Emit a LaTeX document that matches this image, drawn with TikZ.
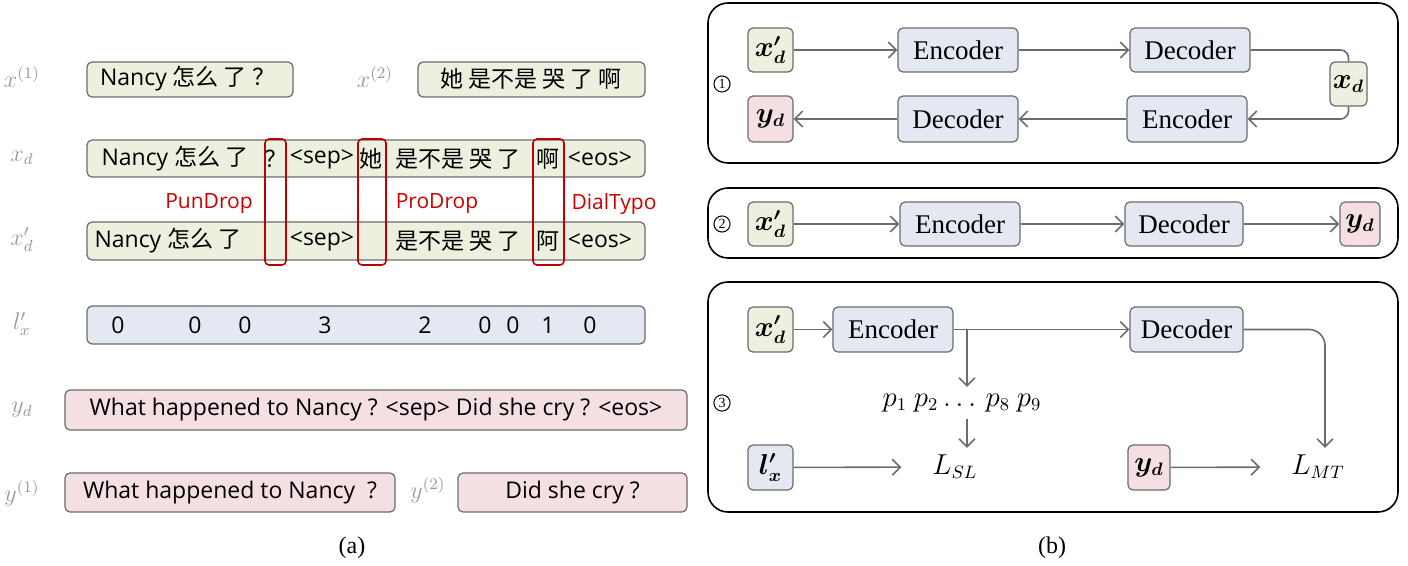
\documentclass[tikz,border=0pt]{standalone}
\usepackage{amsmath,amssymb,bm}
\usepackage{fontspec}
\usetikzlibrary{arrows.meta}
\setmainfont{Liberation Serif}
\newfontfamily\comic{Open Sans}
\newfontfamily\cjk{Noto Sans CJK SC}
\begin{document}
\begin{tikzpicture}[x=0.5pt,y=-0.5pt,
  bx/.style={draw=gray!85!black,rounded corners=2.5pt,line width=0.6pt,inner sep=0pt},
  ltx/.style={font=\comic\fontsize{11.5}{13}\selectfont},
  lab/.style={text=gray!80,font=\fontsize{12}{14}\selectfont},
  rtx/.style={font=\fontsize{13.5}{15}\selectfont},
  cnum/.style={circle,draw,line width=0.5pt,inner sep=0.8pt,font=\fontsize{7}{8}\selectfont},
  redc/.style={draw=red!75!black,line width=0.8pt,rounded corners=2pt},
  redl/.style={text=red!80!black,font=\comic\fontsize{10.5}{12}\selectfont},
  frm/.style={draw=black,line width=0.8pt,rounded corners=10pt},
  ar/.style={draw=gray!85!black,line width=0.8pt,-{Straight Barb[length=4pt,width=8pt]}},
  ln/.style={draw=gray!85!black,line width=0.8pt}]
\useasboundingbox (0,0) rectangle (1408,566);
\fill[white] (0,0) rectangle (1408,566);
\newcommand\B[7]{\node[#6,minimum width={(#4-#2)*0.5pt},minimum height={(#5-#3)*0.5pt}] (#1) at ({(#2+#4)/2},{(#3+#5)/2}) {#7};}
\definecolor{G}{HTML}{EBF1DE}\definecolor{Bl}{HTML}{E4E8F2}\definecolor{P}{HTML}{F4DFE3}
\tikzset{gr/.style={bx,fill=G},bl/.style={bx,fill=Bl},pk/.style={bx,fill=P}}
% ---------- (a)
\node[lab] (l1) at (22,77) {$x^{(1)}$};
\B{b1}{87}{62}{293}{97}{gr}{}
\node[ltx,anchor=west] (t1) at (93,79) {Nancy {\cjk 怎么 了 ？}};
\node[lab] (l2) at (375,77) {$x^{(2)}$};
\B{b2}{418}{62}{645}{97}{gr}{}
\node[ltx] (t2) at (531,79) {\cjk 她 是不是 哭 了 啊};
\node[lab] (l3) at (22,158) {$x_d$};
\B{b3}{87}{140}{645}{177}{gr}{}
\node[ltx] (s1) at (175,159) {Nancy {\cjk 怎么 了}};
\node[ltx] (s2) at (276,159) {\cjk ？};
\node[ltx] (s3) at (322,159) {<sep>};
\node[ltx] (s4) at (371,159) {\cjk 她};
\node[ltx] (s5) at (458,159) {\cjk 是不是 哭 了};
\node[ltx] (s6) at (548,159) {\cjk 啊};
\node[ltx] (s7) at (600,159) {<eos>};
\node[lab] (l4) at (22,240) {$x'_d$};
\B{b4}{87}{222}{645}{260}{gr}{}
\node[ltx] (u1) at (168,241) {Nancy {\cjk 怎么 了}};
\node[ltx] (u3) at (322,241) {<sep>};
\node[ltx] (u5) at (458,241) {\cjk 是不是 哭 了};
\node[ltx] (u6) at (548,241) {\cjk 阿};
\node[ltx] (u7) at (600,241) {<eos>};
\B{r1}{265}{139}{286}{265}{redc}{}
\B{r2}{358}{139}{386}{265}{redc}{}
\B{r3}{533}{139}{564}{265}{redc}{}
\node[redl] (p1) at (209,204) {PunDrop};
\node[redl] (p2) at (437,204) {ProDrop};
\node[redl] (p3) at (614,204) {DialTypo};
\node[lab] (l5) at (22,324) {$l'_x$};
\B{b5}{87}{306}{645}{344}{bl}{}
\foreach \xx/\d [count=\i] in {118/0,195/0,245/0,325/3,425/2,485/0,513/0,548/1,590/0}
  \node[ltx] (d\i) at (\xx,325) {\d};
\node[lab] (l6) at (22,410) {$y_d$};
\B{b6}{65}{390}{687}{430}{pk}{\comic\fontsize{11.5}{13}\selectfont What happened to Nancy ? <sep> Did she cry ? <eos>}
\node[lab] (l7) at (22,493) {$y^{(1)}$};
\B{b7}{65}{473}{395}{512}{pk}{\comic\fontsize{11.5}{13}\selectfont What happened to Nancy \ ?}
\node[lab] (l8) at (428,490) {$y^{(2)}$};
\B{b8}{458}{473}{687}{512}{pk}{\comic\fontsize{11.5}{13}\selectfont Did she cry ?}
\node[font=\fontsize{12}{14}\selectfont] (ca) at (352,548) {(a)};
\node[font=\fontsize{12}{14}\selectfont] (cb) at (1052,548) {(b)};
% ---------- (b) panel 1
\draw[frm] (708,3) rectangle (1398,163);
\node[cnum] (c1) at (722,84) {1};
\B{a1}{748}{28}{793}{72}{gr,rtx}{$\bm{x'_d}$}
\B{a2}{898}{28}{1018}{72}{bl,rtx}{Encoder}
\B{a3}{1130}{28}{1250}{72}{bl,rtx}{Decoder}
\B{a4}{1330}{62}{1367}{106}{gr,rtx}{$\bm{x_d}$}
\B{a5}{1127}{96}{1247}{142}{bl,rtx}{Encoder}
\B{a6}{898}{96}{1018}{142}{bl,rtx}{Decoder}
\B{a7}{748}{96}{793}{142}{pk,rtx}{$\bm{y_d}$}
\draw[ar] (a1) -- (a2);
\draw[ar] (a2) -- (a3);
\draw[ln,rounded corners=4pt] (a3.east) -| (a4.north);
\draw[ar,rounded corners=4pt] (a4.south) |- (a5.east);
\draw[ar] (a5) -- (a6);
\draw[ar] (a6) -- (a7);
% panel 2
\draw[frm] (708,188) rectangle (1398,258);
\node[cnum] (c2) at (722,224) {2};
\B{e1}{748}{202}{793}{246}{gr,rtx}{$\bm{x'_d}$}
\B{e2}{900}{202}{1020}{246}{bl,rtx}{Encoder}
\B{e3}{1125}{202}{1243}{246}{bl,rtx}{Decoder}
\B{e4}{1340}{202}{1380}{246}{pk,rtx}{$\bm{y_d}$}
\draw[ar] (e1) -- (e2);
\draw[ar] (e2) -- (e3);
\draw[ar] (e3) -- (e4);
% panel 3
\draw[frm] (708,282) rectangle (1398,512);
\node[cnum] (c3) at (722,403) {3};
\B{g1}{748}{307}{793}{352}{gr,rtx}{$\bm{x'_d}$}
\B{g2}{833}{307}{953}{352}{bl,rtx}{Encoder}
\B{g3}{1130}{307}{1243}{352}{bl,rtx}{Decoder}
\node[rtx] (ps) at (962,403) {$p_1\ p_2\ldots\, p_8\ p_9$};
\B{g4}{748}{445}{793}{490}{bl,rtx}{$\bm{l'_x}$}
\node[rtx] (lsl) at (955,467) {$L_{SL}$};
\B{g5}{1128}{445}{1170}{490}{pk,rtx}{$\bm{y_d}$}
\node[rtx] (lmt) at (1318,467) {$L_{MT}$};
\coordinate (br) at (967,329.5);
\draw[ar] (g1) -- (g2);
\draw[ar] (g2) -- (g3);
\draw[ar] (br) -- (br |- ps.north);
\draw[ar] (br |- ps.south) -- (br |- lsl.north);
\draw[ar,shorten >=12pt] (g4) -- (lsl);
\draw[ar,rounded corners=8pt] (g3.east) -| ([xshift=3.5pt]lmt.north);
\draw[ar,shorten >=12pt] (g5) -- (lmt);
\end{tikzpicture}
\end{document}
